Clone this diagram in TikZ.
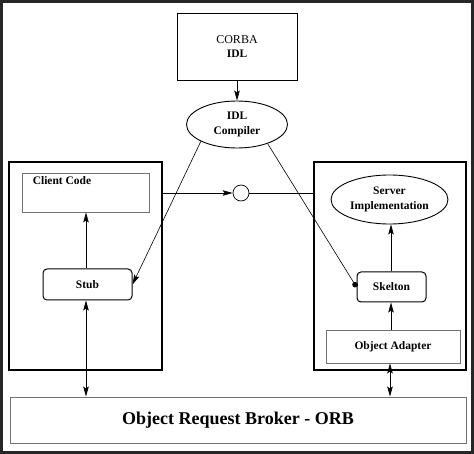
\documentclass[tikz,border=0pt]{standalone}
\usepackage{fontspec}
\setmainfont{Liberation Serif}
\usetikzlibrary{arrows.meta,positioning,calc,shapes.geometric}

\begin{document}
\begin{tikzpicture}[x=1pt,y=-1pt,
	lbl/.style={font=\fontsize{11.5}{14.5}\selectfont\bfseries,align=center},
	box/.style={draw,rectangle,inner sep=0pt},
	greybox/.style={box,draw=black!55,line width=0.9pt},
	frame/.style={box,line width=1.4pt},
	oval/.style={draw,ellipse,inner sep=0pt,line width=0.9pt},
	rbox/.style={draw,rounded corners=4pt,inner sep=0pt,line width=1pt},
	arr/.style={-{Stealth[length=10pt,width=5.5pt,inset=2pt]},line width=0.6pt},
	arrb/.style={{Stealth[length=10pt,width=5.5pt,inset=2pt]}-{Stealth[length=10pt,width=5.5pt,inset=2pt]},line width=0.6pt}]
	\useasboundingbox (0,0) rectangle (474,454);
	\draw[line width=3pt,black!85] (1.5,1.5) rectangle (472.5,452.5);
	% top: IDL and its compiler
	\node[box,lbl,line width=0.8pt,minimum width=120pt,minimum height=67pt] (idl) at (237,46.5)
		{{\mdseries\fontsize{12}{14.5}\selectfont CORBA}\\IDL};
	\node[oval,lbl,minimum width=101pt,minimum height=47pt] (comp) at (237,124.5) {IDL\\Compiler};
	% client side
	\node[frame,minimum width=153pt,minimum height=208pt] (client) at (85.5,266) {};
	\node[greybox,minimum width=127pt,minimum height=39pt,
		label={[lbl,anchor=north west,inner sep=0pt,xshift=11pt,yshift=-4pt]north west:Client Code}] (code) at (85.5,192.5) {};
	\node[rbox,lbl,minimum width=89pt,minimum height=31pt] (stub) at (87.5,284.5) {Stub};
	% server side
	\node[frame,minimum width=152pt,minimum height=208pt] (server) at (390,266) {};
	\node[oval,lbl,minimum width=117pt,minimum height=49pt] (impl) at (389.5,199.5) {Server\\Implementation};
	\node[rbox,lbl,minimum width=69pt,minimum height=30pt] (skel) at (391.5,287) {Skelton};
	\node[greybox,lbl,minimum width=134pt,minimum height=33pt] (adapt) at (393,346.5) {Object Adapter};
	% bus
	\node[greybox,minimum width=456pt,minimum height=46pt,
		font=\fontsize{18}{20}\selectfont\bfseries] (orb) at (238,420) {Object Request Broker - ORB};
	\node[draw,circle,minimum size=16pt,inner sep=0pt,line width=0.7pt] (hub) at (241,193) {};
	\draw[arr] (idl) -- (comp);
	\draw[arr] (comp.205) -- (stub.east);
	\draw[-{Circle[length=5.5pt]},line width=0.6pt] (comp.328) -- (skel.west);
	\draw[arr] (stub.north -| 86,0) -- (code.south -| 86,0);
	\draw[arrb] (stub.south -| 86,0) -- (orb.north -| 86,0);
	\draw[arr] (client.east |- hub.west) -- (hub.west);
	\draw[line width=0.6pt] (hub.east) -- (hub.east -| server.west);
	\draw[arr] (skel.north -| 391,0) -- (impl.south -| 391,0);
	\draw[arr] (adapt.north -| 391,0) -- (skel.south -| 391,0);
	\draw[arrb] (adapt.south -| 390,0) -- (orb.north -| 390,0);
\end{tikzpicture}
\end{document}
